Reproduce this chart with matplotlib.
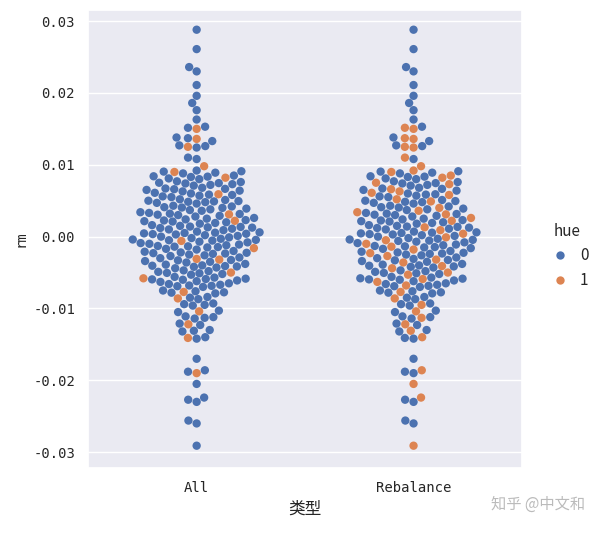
import matplotlib
matplotlib.use("Agg")
import matplotlib.pyplot as plt
import seaborn as sns
import pandas as pd

categories = ["All", "Rebalance"]

# rm values (same for both categories), grouped roughly by level
rm_rows = [
    [0.0288], [0.0261], [0.0236, 0.0230], [0.0211], [0.0196], [0.0186], [0.0176], [0.0163],
    [0.0150, 0.01515, 0.0153],
    [0.0138, 0.0136, 0.0137, 0.0133],
    [0.0126, 0.0125, 0.0124, 0.0127],
    [0.0110, 0.0108], [0.0098],
    [0.0091, 0.0090, 0.0089, 0.0092, 0.0088, 0.00905],
    [0.0084, 0.0083, 0.0082, 0.0085, 0.0081, 0.0080, 0.00835],
    [0.0075, 0.0074, 0.0076, 0.0073, 0.0077, 0.0072, 0.0071, 0.00745],
    [0.0066, 0.0067, 0.0065, 0.0064, 0.0068, 0.0063, 0.00665],
    [0.0058, 0.0059, 0.0057, 0.0056, 0.0060, 0.0055, 0.0061, 0.00585],
    [0.0049, 0.0050, 0.0048, 0.0047, 0.0051, 0.0046, 0.0052, 0.00495, 0.00485],
    [0.0040, 0.0041, 0.0039, 0.0038, 0.0042, 0.0037, 0.0043, 0.0036, 0.00405],
    [0.0031, 0.0032, 0.0030, 0.0029, 0.0033, 0.0028, 0.0034, 0.00315, 0.00305],
    [0.0022, 0.0023, 0.0021, 0.0020, 0.0024, 0.0019, 0.0025, 0.0018, 0.0026, 0.00225, 0.00215],
    [0.0013, 0.0014, 0.0012, 0.0011, 0.0015, 0.0010, 0.0016, 0.0009, 0.00135, 0.00125],
    [0.0004, 0.0005, 0.0003, 0.0002, 0.0006, 0.0001, 0.0007, 0.0000, -0.0001, 0.00045, 0.00035, 0.00055],
    [-0.0005, -0.0004, -0.0006, -0.0003, -0.0007, -0.0002, -0.0008, -0.0009, -0.0010, -0.00055, -0.00045],
    [-0.0014, -0.0013, -0.0015, -0.0012, -0.0016, -0.0011, -0.0017, -0.0018, -0.00145, -0.00135],
    [-0.0023, -0.0022, -0.0024, -0.0021, -0.0025, -0.0020, -0.0026, -0.0027, -0.00235, -0.00225],
    [-0.0032, -0.0031, -0.0033, -0.0030, -0.0034, -0.0029, -0.0035, -0.0036, -0.00325],
    [-0.0041, -0.0040, -0.0042, -0.0039, -0.0043, -0.0038, -0.0044, -0.00415, -0.00405],
    [-0.0050, -0.0049, -0.0051, -0.0048, -0.0052, -0.0047, -0.0053, -0.00505],
    [-0.0059, -0.0058, -0.0060, -0.0057, -0.0061, -0.0056, -0.0062, -0.0063, -0.00595, -0.00585],
    [-0.0068, -0.0067, -0.0069, -0.0066, -0.0070, -0.0065, -0.00685],
    [-0.0077, -0.0076, -0.0078, -0.0075, -0.0079, -0.00775],
    [-0.0086, -0.0085, -0.0087, -0.0084],
    [-0.0095, -0.0094, -0.0096, -0.0093],
    [-0.0104, -0.0103, -0.0105],
    [-0.0113, -0.0112, -0.0114, -0.0111],
    [-0.0122, -0.0121, -0.0123],
    [-0.0131, -0.0130, -0.0132],
    [-0.0140, -0.0141, -0.0142],
    [-0.0170], [-0.0186, -0.0188, -0.0190], [-0.0205], [-0.0224, -0.0227, -0.0230], [-0.0256, -0.0260], [-0.0291],
]
rm_values = [v for row in rm_rows for v in row]

# rm values coloured as hue=1 in each category
hue1_all = [0.0150, 0.0136, 0.0125, 0.0098, 0.0090, 0.0082, 0.0059, 0.0031, 0.0022,
            -0.0006, -0.0016, -0.0031, -0.0032, -0.0050, -0.0058, -0.0077, -0.0086,
            -0.0104, -0.0122, -0.0190, -0.0141]
hue1_reb = [0.0150, 0.01515, 0.0136, 0.0137, 0.0125, 0.0124, 0.0110, 0.0098, 0.0090, 0.0092,
            0.0082, 0.0085, 0.0075, 0.0073, 0.0066, 0.0063, 0.0058, 0.0061, 0.0049, 0.0052,
            0.0040, 0.0036, 0.0031, 0.0034, 0.0022, 0.0026, 0.0013, 0.0009, 0.0004,
            -0.0001, -0.0005, -0.0010, -0.0014, -0.0018, -0.0023, -0.0027, -0.0032,
            -0.0036, -0.0041, -0.0044, -0.0050, -0.0053, -0.0059, -0.0063, -0.0068,
            -0.0077, -0.0086, -0.0095, -0.0104, -0.0113, -0.0122, -0.0131,
            -0.0140, -0.0186, -0.0205, -0.0224, -0.0291]
y_ticks = [-0.03, -0.02, -0.01, 0.0, 0.01, 0.02, 0.03]
y_tick_labels = ["-0.03", "-0.02", "-0.01", "0.00", "0.01", "0.02", "0.03"]

rows = []
for cat, h1 in zip(categories, [hue1_all, hue1_reb]):
    s = set(h1)
    for v in rm_values:
        rows.append({"类型": cat, "rm": v, "hue": 1 if v in s else 0})
df = pd.DataFrame(rows)

cjk = ["Noto Sans CJK SC", "Noto Sans CJK JP", "Noto Sans CJK TC", "Noto Sans CJK KR", "DejaVu Sans"]
sns.set_theme(style="darkgrid")
plt.rcParams["font.family"] = cjk
plt.rcParams["axes.unicode_minus"] = False

fig = plt.figure(figsize=(6.0, 5.33), dpi=100)
ax = fig.add_axes([0.147, 0.122, 0.723, 0.86])
sns.swarmplot(data=df, x="类型", y="rm", hue="hue", ax=ax, size=6,
              palette=["#4c72b0", "#dd8452"])
ax.set_ylim(-0.0322, 0.0316)
ax.set_yticks(y_ticks)
ax.set_yticklabels(y_tick_labels)
for t in ax.get_xticklabels() + ax.get_yticklabels():
    t.set_family("DejaVu Sans Mono")
    t.set_fontsize(10)
ax.set_xlabel("类型", fontsize=12, family=cjk)
ax.set_ylabel("rm", fontsize=10, family="DejaVu Sans Mono")
ax.legend_.remove()
h, l = ax.get_legend_handles_labels()
fig.legend(h, ["0", "1"], title="hue", loc="center left", bbox_to_anchor=(0.885, 0.52),
           frameon=False, fontsize=11, title_fontsize=11, handletextpad=0.3)
fig.text(0.975, 0.045, "知乎 @中文和", ha="right", fontsize=11, color="#bbbbbb", family=cjk)
fig.savefig("out.png", dpi=100)
